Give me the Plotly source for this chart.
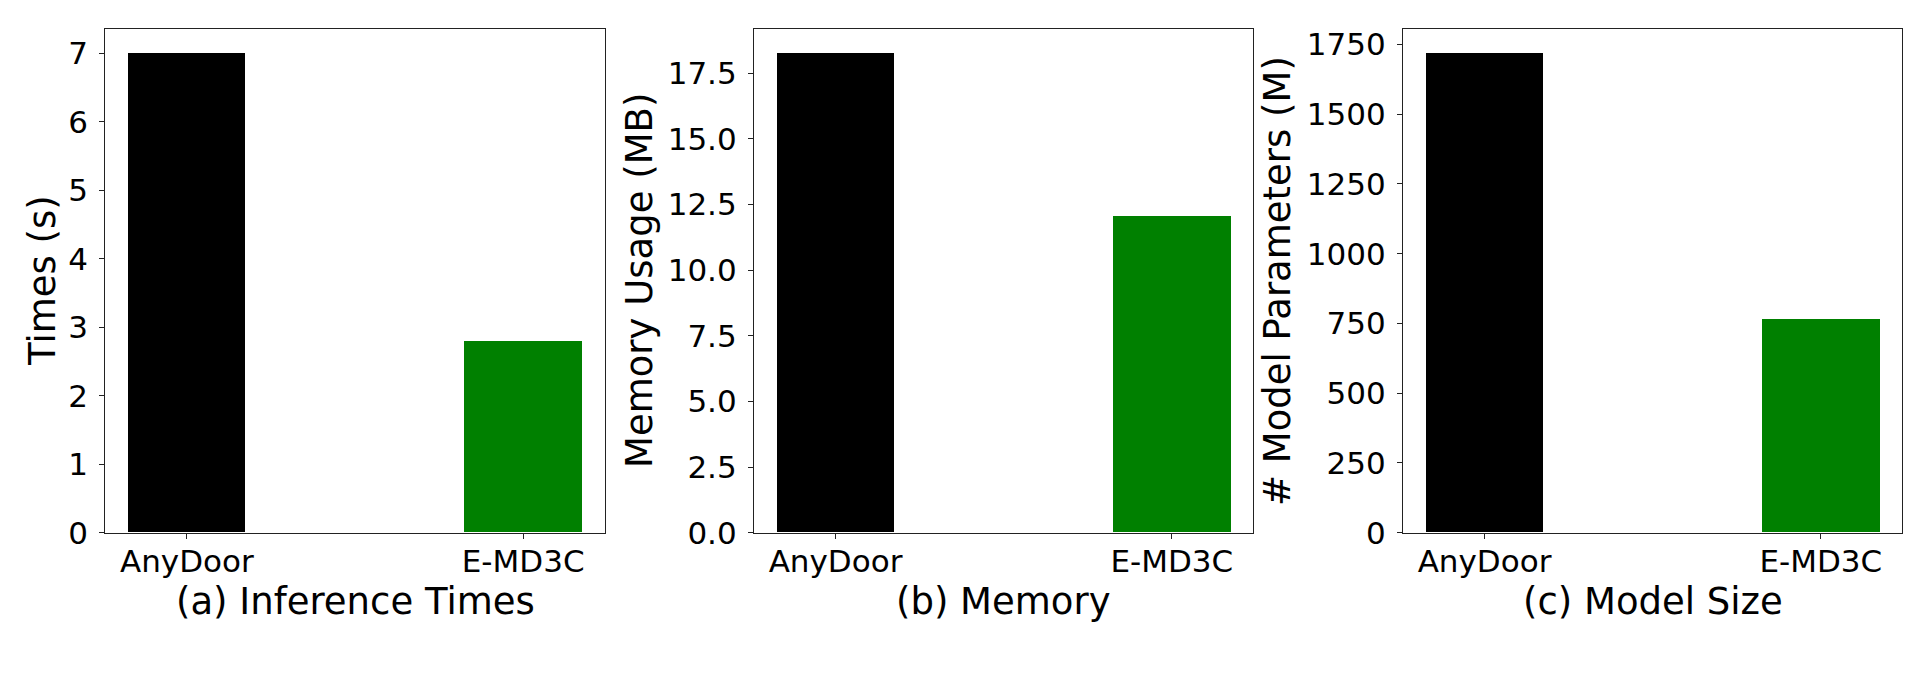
import plotly.graph_objects as go

categories = ["AnyDoor", "E-MD3C"]
bar_colors = ["#000000", "#008000"]

times_s = [7.0, 2.79]
memory_mb = [18.25, 12.04]
params_m = [1718, 765]

panel_values = [times_s, memory_mb, params_m]
y_titles = ["Times (s)", "Memory Usage (MB)", "# Model Parameters (M)"]
captions = ["(a) Inference Times", "(b) Memory", "(c) Model Size"]
y_tickvals = [
    [0, 1, 2, 3, 4, 5, 6, 7],
    [0, 2.5, 5, 7.5, 10, 12.5, 15, 17.5],
    [0, 250, 500, 750, 1000, 1250, 1500, 1750],
]
y_ticktext = [
    ["0", "1", "2", "3", "4", "5", "6", "7"],
    ["0.0", "2.5", "5.0", "7.5", "10.0", "12.5", "15.0", "17.5"],
    ["0", "250", "500", "750", "1000", "1250", "1500", "1750"],
]

W, H = 1912, 680
x_domains_px = [(97.3, 596.7), (746, 1245.3), (1395, 1894.3)]
y_top_px, y_bot_px = 19, 538.3
y_title_x_px = [34, 631, 1269]
caption_y_px = 609

FONT = "DejaVu Sans"

fig = go.Figure()
for i, vals in enumerate(panel_values):
    xa = "x" if i == 0 else f"x{i+1}"
    ya = "y" if i == 0 else f"y{i+1}"
    fig.add_trace(go.Bar(
        x=categories, y=vals, xaxis=xa, yaxis=ya,
        marker=dict(color=bar_colors, line=dict(width=0)),
        width=0.35, showlegend=False, hoverinfo="x+y",
    ))
    d0, d1 = x_domains_px[i]
    key = "" if i == 0 else str(i + 1)
    fig.layout["xaxis" + key] = dict(
        domain=[d0 / W, d1 / W], anchor=ya, range=[-0.2425, 1.2425],
        showline=True, linecolor="#222222", linewidth=1.2, mirror=True,
        ticks="outside", ticklen=5, tickwidth=1.2, tickcolor="#222222",
        showgrid=False, zeroline=False,
        ticklabelstandoff=-4,
        tickfont=dict(family=FONT, size=31, color="black"),
    )
    ymax = max(vals) * 1.05
    fig.layout["yaxis" + key] = dict(
        domain=[1 - y_bot_px / H, 1 - y_top_px / H], anchor=xa, range=[0, ymax],
        showline=True, linecolor="#222222", linewidth=1.2, mirror=True,
        ticks="outside", ticklen=5, tickwidth=1.2, tickcolor="#222222",
        showgrid=False, zeroline=False,
        tickvals=y_tickvals[i], ticktext=y_ticktext[i],
        ticklabelstandoff=5,
        tickfont=dict(family=FONT, size=31, color="black"),
    )
    fig.add_annotation(
        text=captions[i], xref="paper", yref="paper",
        x=(d0 + d1) / 2 / W, y=1 - caption_y_px / H, xanchor="center", yanchor="middle",
        showarrow=False, font=dict(family=FONT, size=37, color="black"),
    )
    fig.add_annotation(
        text=y_titles[i], xref="paper", yref="paper", textangle=-90,
        x=y_title_x_px[i] / W, y=1 - (y_top_px + y_bot_px) / 2 / H,
        xanchor="center", yanchor="middle",
        showarrow=False, font=dict(family=FONT, size=37, color="black"),
    )

fig.update_layout(
    width=W, height=H, margin=dict(l=0, r=0, t=0, b=0),
    paper_bgcolor="white", plot_bgcolor="white", bargap=0,
)
fig.write_html("out.html")
